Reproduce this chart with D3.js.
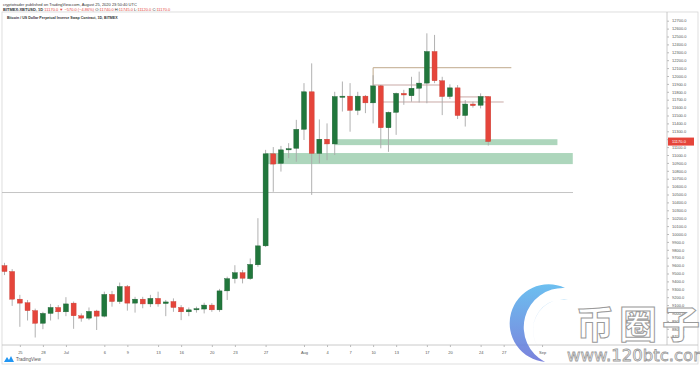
<!DOCTYPE html>
<html>
<head>
<meta charset="utf-8">
<script src="https://cdn.jsdelivr.net/npm/d3@7"></script>
<style>
  body { margin: 0; background: #fff; }
  svg { display: block; font-family: "Liberation Sans", Arial, sans-serif; }
</style>
</head>
<body>
<svg id="drawing_region"></svg>
<script>
// daily candles, BITMEX XBTUSD, Jun 23 - Aug 25 2020
const startDay = new Date(2020, 5, 23);
const opens  = [9600,9525,9175,9130,9030,8870,8995,9070,9015,9125,8965,8935,9025,8960,9235,9145,9335,9125,9175,9115,9185,9120,9145,9070,9015,9040,9050,9100,9040,9280,9435,9510,9435,9610,9850,11015,10895,11070,11085,11325,11800,11020,11200,11140,11730,11745,11565,11745,11660,11875,11345,11540,11780,11750,11845,11910,12310,11940,11740,11850,11500,11645,11630,11740];
const highs  = [9635,9555,9230,9165,9055,9015,9115,9100,9200,9145,8995,9070,9040,9270,9280,9385,9355,9205,9205,9230,9270,9165,9185,9100,9070,9080,9130,9125,9305,9460,9605,9545,9690,10200,11065,11100,11115,11150,11445,11910,12160,11450,11400,11800,11930,11910,11800,11760,12010,11885,11550,11790,11825,11990,12055,12540,12520,11990,11895,11885,11695,11675,11780,11745];
const lows   = [9480,9090,8825,8905,8690,8795,8905,8920,8960,8800,8890,8910,8785,8945,9080,9115,9030,9005,9060,9075,9080,8960,9015,8910,8960,9005,8995,9015,9015,9165,9375,9375,9420,9585,9835,10535,10790,10960,10915,11190,10495,10895,10935,11000,11550,11295,11505,11530,11400,11085,11040,11255,11635,11675,11665,11655,11910,11505,11710,11455,11360,11600,11590,11120];
const closes = [9525,9175,9125,9030,8870,8995,9070,9015,9115,8965,8935,9020,8960,9235,9145,9335,9125,9175,9115,9185,9115,9140,9070,9015,9040,9055,9100,9040,9280,9435,9510,9440,9615,9850,11015,10885,11065,11080,11325,11800,11020,11200,11140,11740,11745,11565,11745,11660,11875,11345,11540,11780,11760,11845,11910,12310,11940,11740,11850,11500,11645,11625,11740,11170];

// price scale ticks and time labels
const priceTicks = d3.range(8700, 12701, 100);
const timeLabels = [
  [new Date(2020, 5, 25), "25"], [new Date(2020, 5, 28), "28"], [new Date(2020, 6, 1), "Jul"],
  [new Date(2020, 6, 6), "6"], [new Date(2020, 6, 9), "9"], [new Date(2020, 6, 13), "13"],
  [new Date(2020, 6, 16), "16"], [new Date(2020, 6, 20), "20"], [new Date(2020, 6, 23), "23"],
  [new Date(2020, 6, 27), "27"], [new Date(2020, 7, 1), "Aug"], [new Date(2020, 7, 4), "4"],
  [new Date(2020, 7, 7), "7"], [new Date(2020, 7, 10), "10"], [new Date(2020, 7, 13), "13"],
  [new Date(2020, 7, 17), "17"], [new Date(2020, 7, 20), "20"], [new Date(2020, 7, 24), "24"],
  [new Date(2020, 7, 27), "27"], [new Date(2020, 8, 1), "Sep"]
];

// drawings on the chart
const hLine = {price: 10525};
const zones = [
  {from: new Date(2020, 6, 27), to: new Date(2020, 8, 5), top: 11025, bottom: 10885},
  {from: new Date(2020, 7, 5), to: new Date(2020, 8, 3), top: 11200, bottom: 11125}
];
const levels = [
  {from: new Date(2020, 7, 10), to: new Date(2020, 7, 28), price: 12105, color: "#bfa98c", drop: 11886},
  {from: new Date(2020, 7, 10), to: new Date(2020, 7, 19), price: 11886, color: "#c9a9a6"},
  {from: new Date(2020, 7, 11), to: new Date(2020, 7, 27), price: 11671, color: "#c9a9a6", drop: 11886},
  {from: new Date(2020, 7, 21), to: new Date(2020, 7, 25), price: 11735, color: "#c9a9a6"}
];

const dates = d3.timeDay.range(startDay, d3.timeDay.offset(startDay, opens.length));
const data = dates.map((d, i) => ({date: d, o: opens[i], h: highs[i], l: lows[i], c: closes[i]}));

const width = 700, height = 365;
const svg = d3.select("#drawing_region").attr("width", width).attr("height", height);

const plotRight = 667, plotBottom = 345, plotTop = 12;
const xscale = d3.scaleTime().domain([dates[0], dates[dates.length - 1]]).range([4.5, 488.3]);
const yscale = d3.scaleLinear().domain([8700, 12700]).range([336.7, 20.7]);

const green = "#21773c", red = "#e5453b";

// header
svg.append("text").attr("x", 3).attr("y", 5.5).attr("font-size", 4).attr("fill", "#333")
  .text("cryptotrader published on TradingView.com, August 25, 2020 23:50:40 UTC");
const hdr = svg.append("text").attr("x", 3).attr("y", 10.5).attr("font-size", 4).attr("fill", "#333");
hdr.append("tspan").attr("font-weight", "bold").text("BITMEX:XBTUSD, 1D ");
hdr.append("tspan").attr("fill", red).text("11170.0 ▼ −570.0 (−4.86%) ");
hdr.append("tspan").text("O:");
hdr.append("tspan").attr("fill", red).text("11740.0 ");
hdr.append("tspan").text("H:");
hdr.append("tspan").attr("fill", red).text("11745.0 ");
hdr.append("tspan").text("L:");
hdr.append("tspan").attr("fill", red).text("11120.0 ");
hdr.append("tspan").text("C:");
hdr.append("tspan").attr("fill", red).text("11170.0");

// frame
svg.append("rect").attr("x", 2).attr("y", plotTop).attr("width", 696).attr("height", 352)
  .attr("fill", "none").attr("stroke", "#d6d6d6").attr("stroke-width", 0.8);
svg.append("line").attr("x1", plotRight).attr("x2", plotRight).attr("y1", plotTop).attr("y2", plotBottom)
  .attr("stroke", "#bdbdbd").attr("stroke-width", 0.8);
svg.append("line").attr("x1", 2).attr("x2", 698).attr("y1", plotBottom).attr("y2", plotBottom)
  .attr("stroke", "#bdbdbd").attr("stroke-width", 0.8);

svg.append("text").attr("x", 7).attr("y", 19).attr("font-size", 3.6).attr("font-weight", "bold").attr("fill", "#333")
  .text("Bitcoin / US Dollar Perpetual Inverse Swap Contract, 1D, BITMEX");

const chart = svg.append("g");

// horizontal line
chart.append("line").attr("x1", 2).attr("x2", 573)
  .attr("y1", yscale(hLine.price)).attr("y2", yscale(hLine.price))
  .attr("stroke", "#bdbdbd").attr("stroke-width", 0.9);

// support zones
chart.selectAll("rect.zone").data(zones).join("rect").attr("class", "zone")
  .attr("x", d => xscale(d.from)).attr("width", d => xscale(d.to) - xscale(d.from))
  .attr("y", d => yscale(d.top)).attr("height", d => yscale(d.bottom) - yscale(d.top))
  .attr("fill", "#4aa56b").attr("fill-opacity", 0.45);

// resistance levels
chart.selectAll("path.level").data(levels).join("path").attr("class", "level")
  .attr("d", d => {
    const x0 = xscale(d.from), x1 = xscale(d.to), y = yscale(d.price);
    return d.drop ? `M${x0},${yscale(d.drop)}V${y}H${x1}` : `M${x0},${y}H${x1}`;
  })
  .attr("fill", "none").attr("stroke", d => d.color).attr("stroke-width", 1);

// candles
const bw = 5;
const candle = chart.selectAll("g.candle").data(data).join("g").attr("class", "candle");
candle.append("line")
  .attr("x1", d => xscale(d.date)).attr("x2", d => xscale(d.date))
  .attr("y1", d => yscale(d.h)).attr("y2", d => yscale(d.l))
  .attr("stroke", "#a8a8a8").attr("stroke-width", 0.9);
candle.append("rect")
  .attr("x", d => xscale(d.date) - bw / 2).attr("width", bw)
  .attr("y", d => yscale(Math.max(d.o, d.c)))
  .attr("height", d => Math.max(1.2, Math.abs(yscale(d.o) - yscale(d.c))))
  .attr("fill", d => d.c >= d.o ? green : red)
  .attr("stroke", d => d.c >= d.o ? "#1a5e30" : "#c93a31").attr("stroke-width", 0.4);

// price axis
const yaxis = svg.append("g").attr("transform", `translate(${plotRight},0)`)
  .call(d3.axisRight(yscale).tickValues(priceTicks).tickSize(2).tickFormat(d3.format(".1f")));
yaxis.select(".domain").remove();
yaxis.selectAll("line").attr("stroke", "#bbb");
yaxis.selectAll("text").attr("font-size", 4).attr("fill", "#555").attr("x", 5);

// last price label
const last = data[data.length - 1];
svg.append("rect").attr("x", plotRight + 1).attr("y", yscale(last.c) - 4).attr("width", 26).attr("height", 8)
  .attr("fill", red);
svg.append("text").attr("x", plotRight + 5).attr("y", yscale(last.c) + 1.5).attr("font-size", 4).attr("fill", "#fff")
  .text(last.c.toFixed(1));

// time axis
const xaxis = svg.append("g").attr("transform", `translate(0,${plotBottom})`)
  .call(d3.axisBottom(xscale).tickValues(timeLabels.map(t => t[0])).tickSize(2)
    .tickFormat((d, i) => timeLabels[i][1]));
xaxis.select(".domain").remove();
xaxis.selectAll("line").attr("stroke", "#bbb");
xaxis.selectAll("text").attr("font-size", 4).attr("fill", "#555").attr("dy", "0.9em");

// TradingView logo
const logo = svg.append("g").attr("transform", "translate(4,356)");
logo.append("path").attr("d", "M0,6 L3,1 L5,4 L7,0 L10,6 Z").attr("fill", "#2196f3");
logo.append("text").attr("x", 12).attr("y", 5).attr("font-size", 4.5).attr("fill", "#555").text("TradingView");

// site watermark
const wm = svg.append("g");
const grad = svg.append("defs").append("linearGradient").attr("id", "wmg").attr("x1", 0).attr("y1", 0).attr("x2", 0).attr("y2", 1);
grad.append("stop").attr("offset", 0).attr("stop-color", "#5cb8ee");
grad.append("stop").attr("offset", 1).attr("stop-color", "#6c74d8");
wm.append("path").attr("d", "M565,288 A38.9,38.9 0 1,0 545,362 A39.2,39.2 0 0,1 565,288 Z")
  .attr("fill", "url(#wmg)").attr("opacity", 0.9);
wm.append("path").attr("d", "M572,300 A30,30 0 1,0 556,360 A31,31 0 0,1 572,300 Z")
  .attr("fill", "url(#wmg)").attr("opacity", 0.55);
wm.append("text").attr("x", 576).attr("y", 338).attr("font-size", 38)
  .attr("font-family", "Noto Sans CJK SC").attr("font-weight", "bold").attr("letter-spacing", 5)
  .attr("fill", "#fff").attr("stroke", "#9a9a9a").attr("stroke-width", 1).text("币圈子");
wm.append("text").attr("x", 567).attr("y", 361).attr("font-size", 16.5)
  .attr("font-family", "DejaVu Sans").attr("fill", "#fff").attr("stroke", "#9a9a9a").attr("stroke-width", 0.8)
  .text("www.120btc.com");
</script>
</body>
</html>
